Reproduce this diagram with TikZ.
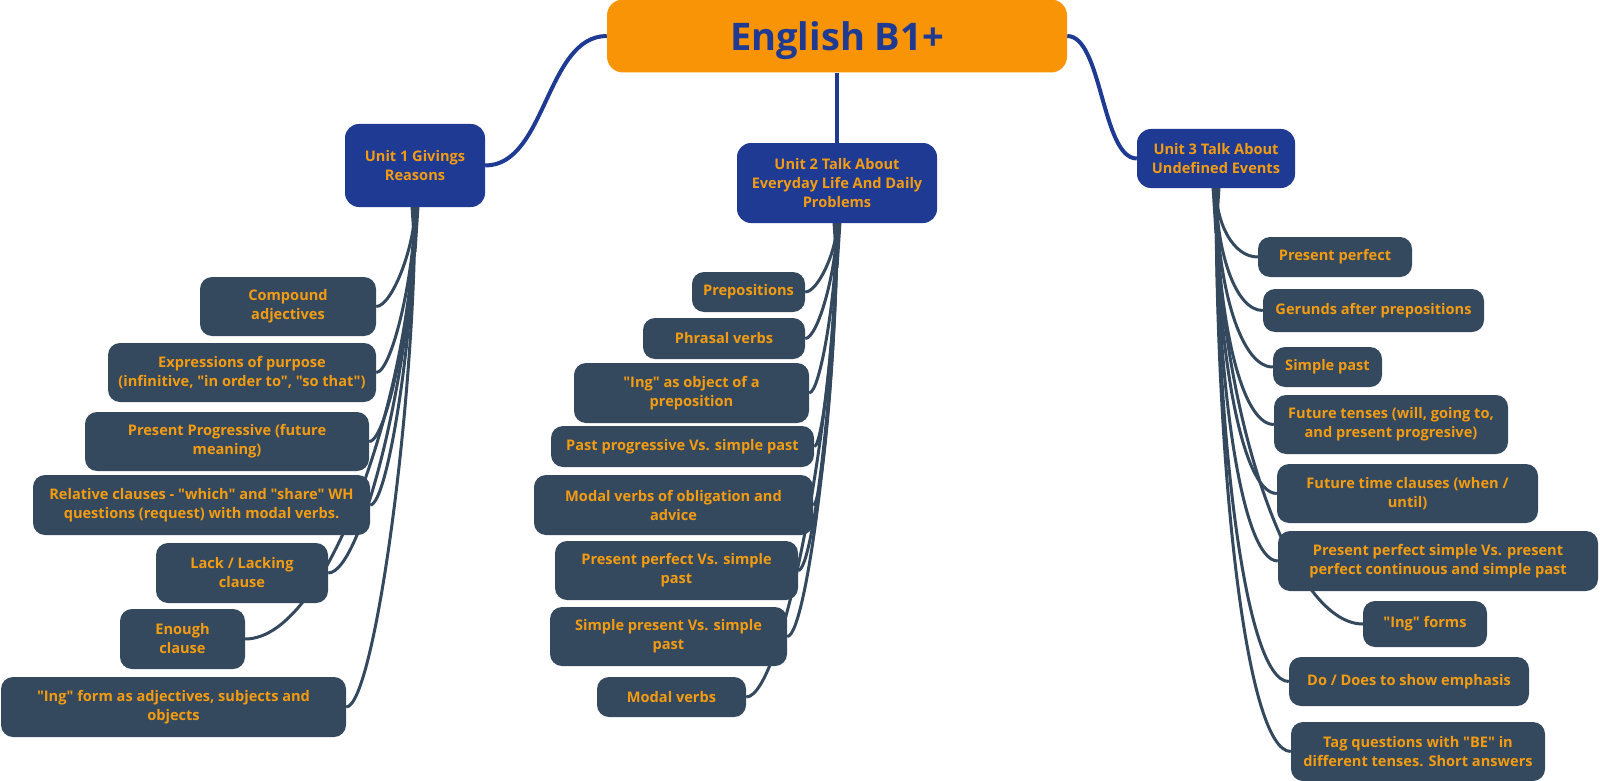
\documentclass[tikz,border=0pt]{standalone}
\usepackage{fontspec}
\newfontfamily\osans{Open Sans}
\usepackage{tikz}
\usetikzlibrary{calc, backgrounds}
\definecolor{rootorange}{RGB}{248,148,6}
\definecolor{unitblue}{RGB}{31,58,147}
\definecolor{leafslate}{RGB}{52,73,94}
\definecolor{leaftext}{RGB}{243,156,18}

\begin{document}
\begin{tikzpicture}[x=1pt, y=-1pt,
  topic/.style={fill=rootorange, text=unitblue, rounded corners=16pt, inner sep=0pt, text depth=0pt, font=\osans\bfseries\fontsize{38}{44}\selectfont},
  unit/.style={fill=unitblue, text=leaftext, rounded corners=14pt, inner sep=0pt, align=center, font=\osans\bfseries\fontsize{14.6}{19}\selectfont},
  leaf/.style={fill=leafslate, text=leaftext, rounded corners=12pt, inner sep=0pt, align=center, font=\osans\bfseries\fontsize{14.6}{19}\selectfont},
  bough/.style={draw=unitblue, line width=4pt},
  twig/.style={draw=leafslate, line width=3pt}]
\useasboundingbox (0,0) rectangle (1600,781);

% central topic
\node[topic, minimum width=460, minimum height=73] (root) at (837,36) {English B1+};

% units
\node[unit, minimum width=140, minimum height=83] (u1) at (415,165.5) {Unit 1 Givings\\Reasons};
\node[unit, minimum width=200, minimum height=80] (u2) at (837,183) {Unit 2 Talk About\\Everyday Life And Daily\\Problems};
\node[unit, minimum width=158, minimum height=59] (u3) at (1216,158.5) {Unit 3 Talk About\\Undefined Events};

% unit 1
\node[leaf, minimum width=176, minimum height=59] (cmpd) at (288,306.5) {Compound\\adjectives};
\node[leaf, minimum width=268, minimum height=59] (purp) at (242,372.5) {Expressions of purpose\\(infinitive, "in order to", "so that")};
\node[leaf, minimum width=284, minimum height=59] (prog) at (227,441.5) {Present Progressive (future\\meaning)};
\node[leaf, minimum width=337, minimum height=60] (relc) at (201.5,505) {Relative clauses - "which" and "share" WH\\questions (request) with modal verbs.};
\node[leaf, minimum width=172, minimum height=60] (lack) at (242,573) {Lack / Lacking\\clause};
\node[leaf, minimum width=125, minimum height=60] (enuf) at (182.5,639) {Enough\\clause};
\node[leaf, minimum width=345, minimum height=60] (ingf) at (173.5,707) {"Ing" form as adjectives, subjects and\\objects};

% unit 2
\node[leaf, minimum width=113, minimum height=40] (prep) at (748.5,292) {Prepositions};
\node[leaf, minimum width=162, minimum height=41] (phrv) at (724,338.5) {Phrasal verbs};
\node[leaf, minimum width=235, minimum height=60] (ingo) at (691.5,393) {"Ing" as object of a\\preposition};
\node[leaf, minimum width=263, minimum height=41] (pprg) at (682.5,446.5) {Past progressive Vs. simple past};
\node[leaf, minimum width=279, minimum height=60] (modo) at (673.5,505) {Modal verbs of obligation and\\advice};
\node[leaf, minimum width=243, minimum height=59] (ppvs) at (676.5,570.5) {Present perfect Vs. simple\\past};
\node[leaf, minimum width=237, minimum height=59] (spvs) at (668.5,636.5) {Simple present Vs. simple\\past};
\node[leaf, minimum width=149, minimum height=40] (modv) at (671.5,697) {Modal verbs};

% unit 3
\node[leaf, minimum width=154, minimum height=40] (pper) at (1335,257) {Present perfect};
\node[leaf, minimum width=221, minimum height=43] (gerd) at (1373.5,310.5) {Gerunds after prepositions};
\node[leaf, minimum width=109, minimum height=40] (spst) at (1327.5,367) {Simple past};
\node[leaf, minimum width=234, minimum height=59] (futt) at (1391,424.5) {Future tenses (will, going to,\\and present progresive)};
\node[leaf, minimum width=261, minimum height=59] (futc) at (1407.5,493.5) {Future time clauses (when /\\until)};
\node[leaf, minimum width=320, minimum height=60] (ppsv) at (1438,561) {Present perfect simple Vs. present\\perfect continuous and simple past};
\node[leaf, minimum width=124, minimum height=46] (ingm) at (1425,624) {"Ing" forms};
\node[leaf, minimum width=240, minimum height=49] (dodo) at (1409,681.5) {Do / Does to show emphasis};
\node[leaf, minimum width=254, minimum height=59] (tagq) at (1418,751.5) {Tag questions with "BE" in\\different tenses. Short answers};

\begin{scope}[on background layer]
% main branches
\draw[bough] (root.west) .. controls +(-61,0) and +(61,0) .. (u1.east);
\draw[bough] (root.south) -- (u2.north);
\draw[bough] (root.east) .. controls +(35,0) and +(-35,0) .. (u3.west);
% tapered trunks
\foreach \u in {u1,u2,u3}
  \fill[leafslate] ($(\u.south)+(-4.5,-1)$) -- ($(\u.south)+(4.5,-1)$) -- ($(\u.south)+(1.5,45)$) -- ($(\u.south)+(-1.5,45)$) -- cycle;
% left side twigs
\foreach \kid/\f in {cmpd/.4,purp/.4,prog/.4,relc/.4,lack/.4,enuf/.5,ingf/.4}
  \draw[twig] (u1.south) .. controls ($(u1.south)!.4!(u1.south|-\kid.east)$) and ($(\kid.east)!\f!(u1.south|-\kid.east)$) .. (\kid.east);
\foreach \kid in {prep,phrv,ingo,pprg,modo,ppvs,spvs,modv}
  \draw[twig] (u2.south) .. controls ($(u2.south)!.4!(u2.south|-\kid.east)$) and ($(\kid.east)!.4!(u2.south|-\kid.east)$) .. (\kid.east);
% right side twigs
\foreach \kid/\f in {pper/.6,gerd/.6,spst/.6,futt/.6,futc/.6,ppsv/.6,ingm/.5,dodo/.6,tagq/.6}
  \draw[twig] (u3.south) .. controls ($(u3.south)!.5!(u3.south|-\kid.west)$) and ($(\kid.west)!\f!(u3.south|-\kid.west)$) .. (\kid.west);
\end{scope}
\end{tikzpicture}
\end{document}
